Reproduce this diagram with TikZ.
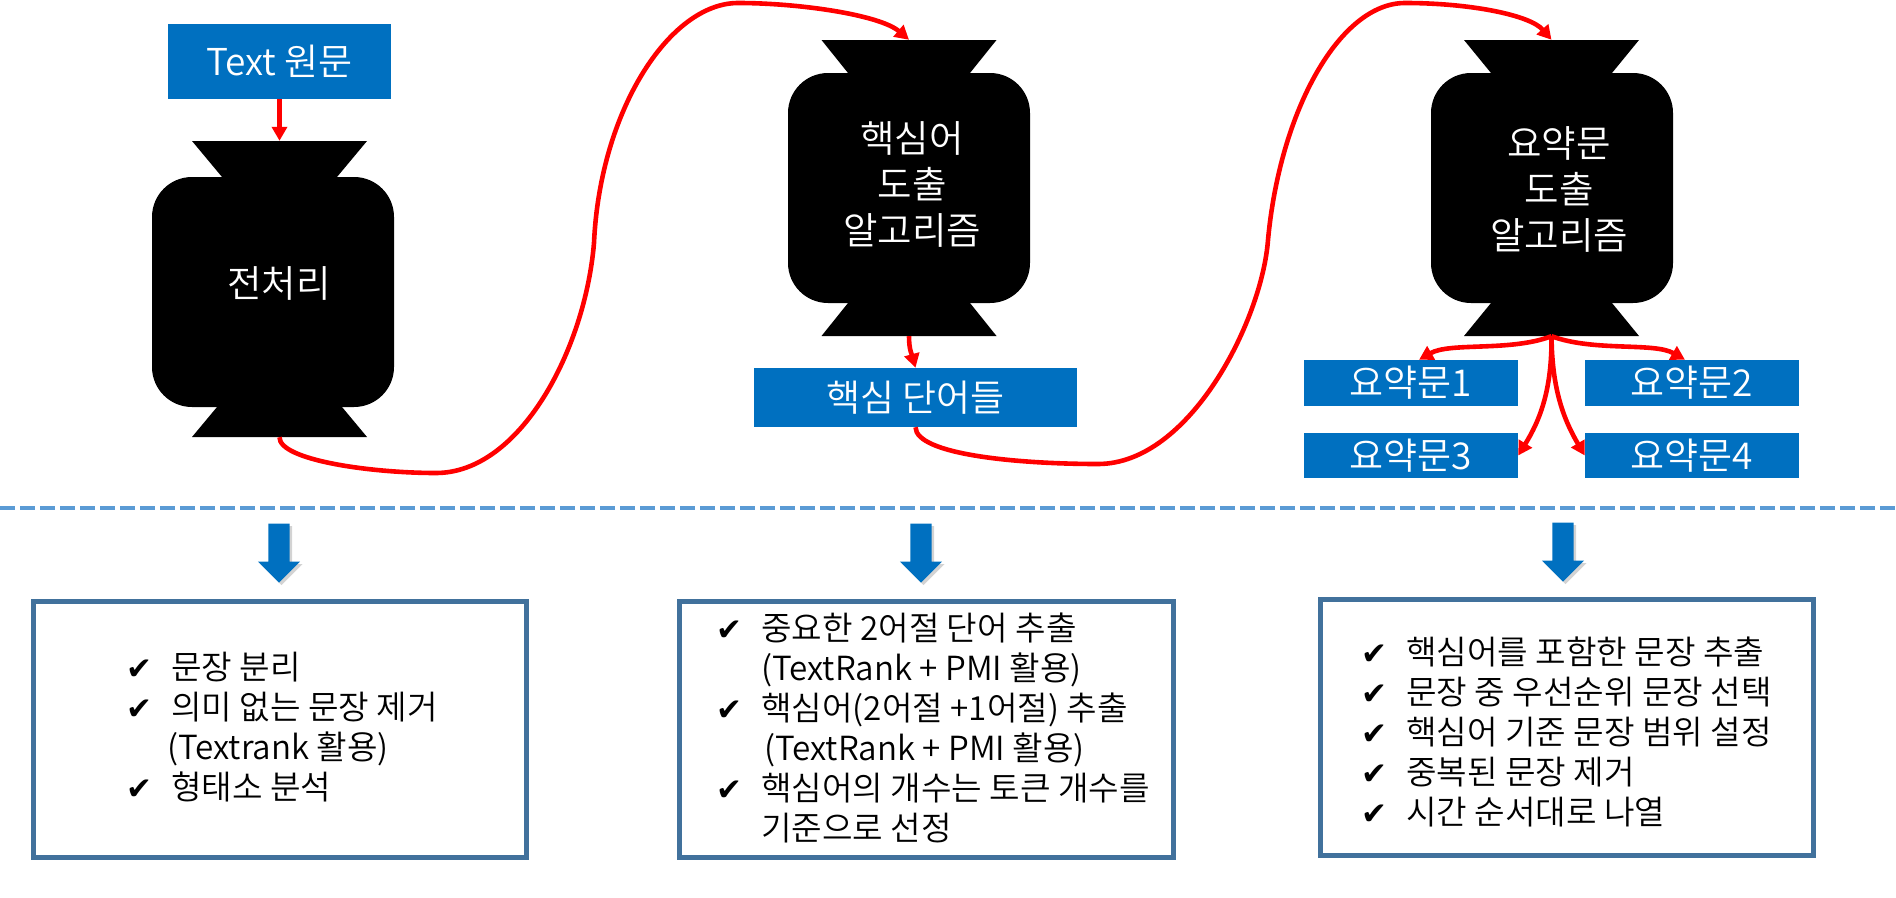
\documentclass[tikz,border=0pt]{standalone}
\usepackage{fontspec}
\setmainfont{Noto Sans CJK KR}[UprightFont=* DemiLight]
\newfontfamily\chkfont{DejaVu Sans}
\usetikzlibrary{positioning,arrows.meta,shapes.arrows,shadows}
\definecolor{boxblue}{HTML}{0070C0}
\definecolor{frameblue}{HTML}{41719C}
\definecolor{dashblue}{HTML}{5B9BD5}
\newcommand{\chk}{\makebox[45bp][l]{\chkfont\fontsize{31bp}{40bp}\selectfont ✔}}
\tikzset{
  bluebox/.style={fill=boxblue,text=white,inner sep=0pt,font=\fontsize{37bp}{46bp}\selectfont},
  jarbox/.style={inner sep=0pt,minimum width=175bp},
  jartext/.style={text=white,align=center,inner sep=0pt,font=\fontsize{37.5bp}{46bp}\selectfont},
  flow/.style={red,line width=4.6bp,-{Triangle[length=14bp,width=15bp]}},
  downarrow/.style={single arrow,fill=boxblue,inner sep=10.5bp,minimum width=42bp,minimum height=59bp,
    single arrow head extend=10.5bp,shape border rotate=270,anchor=tip,
    drop shadow={shadow xshift=2.5bp,shadow yshift=-2.5bp,opacity=.35}},
  framebox/.style={draw=frameblue,line width=5bp,inner sep=0pt},
  listtext/.style={align=left,anchor=west,inner sep=0pt,font=\fontsize{33.2bp}{40bp}\selectfont},
}
\begin{document}
\begin{tikzpicture}[x=1bp,y=-1bp,line join=miter]
\useasboundingbox (0,0) rectangle (1896,898);
%%
\foreach \jar/\cx/\bx/\nt/\nb/\ya/\yb/\yc/\yd in {prep/279.5/273/57.5/62.5/141/177/407/437,
    core/909/909/61/61/40/73/303/336, summ/1551.5/1552/60.5/60.5/40/73/303/336} {
  \fill[rounded corners=40bp] (\bx-121,\yb) rectangle (\bx+121,\yc);
  \fill (\cx-87.5,\ya) -- (\cx+87.5,\ya) -- (\cx+\nt,\yb) -- (\cx+\nt,\yb+5) -- (\cx-\nt,\yb+5) -- (\cx-\nt,\yb) -- cycle;
  \fill (\cx-87.5,\yd) -- (\cx+87.5,\yd) -- (\cx+\nb,\yc) -- (\cx+\nb,\yc-5) -- (\cx-\nb,\yc-5) -- (\cx-\nb,\yc) -- cycle;
  \node (\jar) at (\cx,{(\ya+\yd)/2}) [jarbox,minimum height={(\yd-\ya)*1bp}] {};
}
  \node (preplabel) at (279,283) [jartext] {전처리};
  \node (corelabel) at (912,184) [jartext] {핵심어\\도출\\알고리즘};
  \node (summlabel) at (1559,189) [jartext] {요약문\\도출\\알고리즘};
%
  \node (source) at (279.5,61.5) [bluebox,minimum width=223bp,minimum height=75bp] {Text 원문};
  \node (terms) at (915.5,397.5) [bluebox,minimum width=323bp,minimum height=59bp] {핵심 단어들};
  \node (sum1) at (1411,383) [bluebox,minimum width=214bp,minimum height=46bp] {요약문1};
  \node (sum2) at (1692,383) [bluebox,minimum width=214bp,minimum height=46bp] {요약문2};
  \node (sum3) at (1411,455.5) [bluebox,minimum width=214bp,minimum height=45bp] {요약문3};
  \node (sum4) at (1692,455.5) [bluebox,minimum width=214bp,minimum height=45bp] {요약문4};
%
  \draw [flow] (source) -- (prep);
  \draw [flow] (prep.south) ..controls (279,460) and (370,473) .. (436,473)
    ..controls (520,473) and (585,350) .. (594,243)
    ..controls (600,110) and (670,3) .. (738,3)
    ..controls (800,3) and (880,15) .. (core.north);
  \draw [flow] (core.south) ..controls (909,350) and (912,355) .. (terms.north);
  \draw [flow] (terms.south) ..controls (916,455) and (1020,464) .. (1098,464)
    ..controls (1190,464) and (1262,320) .. (1268,240)
    ..controls (1280,110) and (1340,3) .. (1405,3)
    ..controls (1470,3) and (1530,15) .. (summ.north);
  \draw [flow] (summ.south) ..controls (1510,352) and (1450,342) .. ([xshift=8bp]sum1.north);
  \draw [flow] (summ.south) ..controls (1594,352) and (1654,342) .. ([xshift=-7bp]sum2.north);
  \draw [flow] (summ.south) ..controls (1552,390) and (1540,420) .. (sum3.east);
  \draw [flow] (summ.south) ..controls (1552,390) and (1564,420) .. (sum4.west);
%
  \coordinate (dashl) at (0,508);
  \coordinate (dashr) at (1896,508);
  \draw [dashblue,line width=4.5bp,dash pattern=on 14.5bp off 5.5bp] (dashl) -- (dashr);
%
  \node (arrowa) at (279,583) [downarrow] {};
  \node (arrowb) at (921,583) [downarrow] {};
  \node (arrowc) at (1563,582) [downarrow] {};
%
  \node (framea) at (280,729.5) [framebox,minimum width=493bp,minimum height=256bp] {};
  \node (frameb) at (926.5,729.5) [framebox,minimum width=494bp,minimum height=256bp] {};
  \node (framec) at (1567,727.5) [framebox,minimum width=493bp,minimum height=256bp] {};
%
  \node (lista) at (126,727) [listtext] {\chk 문장 분리\\\chk 의미 없는 문장 제거\\\hspace*{41bp}(Textrank 활용)\\\chk 형태소 분석};
  \node (listb) at (716,728) [listtext] {\chk 중요한 2어절 단어 추출\\\hspace*{45bp}(TextRank + PMI 활용)\\\chk 핵심어(2어절 +1어절) 추출\\\hspace*{48bp}(TextRank + PMI 활용)\\\chk 핵심어의 개수는 토큰 개수를\\\hspace*{45bp}기준으로 선정};
  \node (listc) at (1361,732) [listtext] {\chk 핵심어를 포함한 문장 추출\\\chk 문장 중 우선순위 문장 선택\\\chk 핵심어 기준 문장 범위 설정\\\chk 중복된 문장 제거\\\chk 시간 순서대로 나열};
%
\end{tikzpicture}
\end{document}
